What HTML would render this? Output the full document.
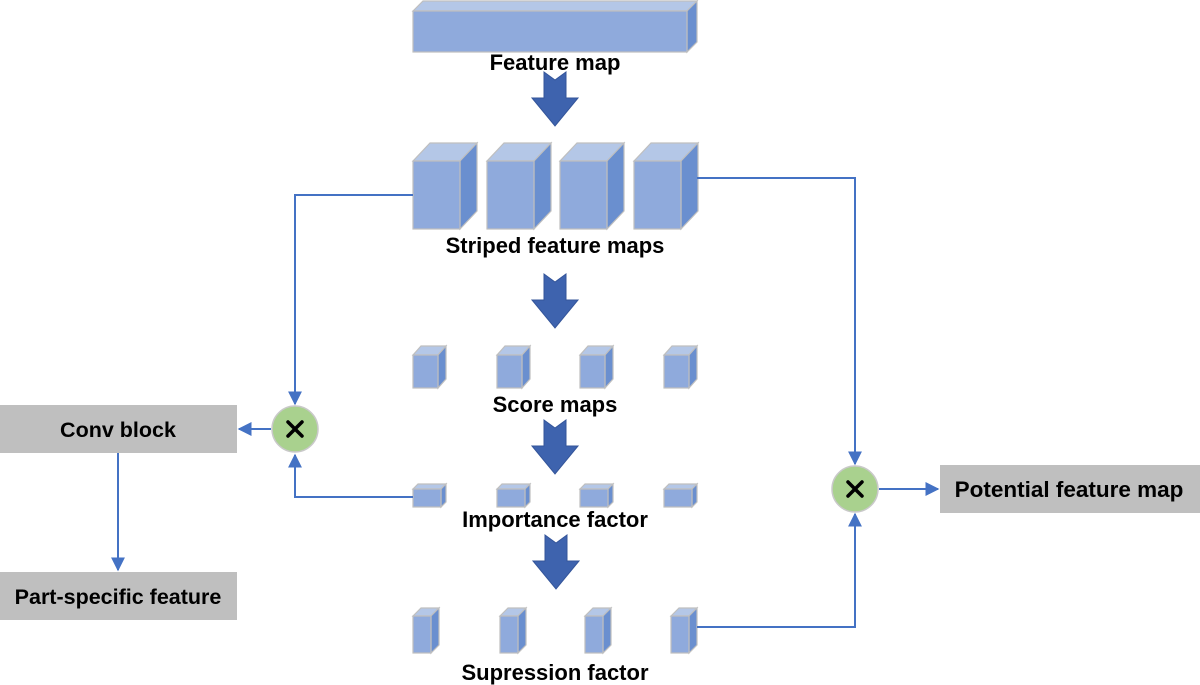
<!DOCTYPE html>
<html><head><meta charset="utf-8"><style>
html,body{margin:0;padding:0;background:#fff;}
svg{display:block;}
text{font-family:"Liberation Sans",sans-serif;font-weight:bold;fill:#000;}
</style></head><body>
<svg width="1200" height="685" viewBox="0 0 1200 685" xmlns="http://www.w3.org/2000/svg">
<defs>
<marker id="ah" viewBox="0 0 10 10" refX="9" refY="5" markerWidth="7" markerHeight="7" orient="auto" markerUnits="strokeWidth"><path d="M0,0 L10,5 L0,10 z" fill="#4472c4"/></marker>
<g id="chev"><path d="M-11,0 L0,8 L11,0 L11,26 L23,26 L0,54 L-23,26 L-11,26 z" fill="#3e63ae" stroke="#34559a" stroke-width="1"/></g>
</defs>
<g stroke="#bfbfbf" stroke-width="1.2">
<polygon points="413,11 423,1 697,1 687,11" fill="#b4c7e7"/>
<polygon points="687,11 697,1 697,42 687,52" fill="#6a8fcf"/>
<rect x="413" y="11" width="274" height="41" fill="#8faadc"/>
<g id="s1">
<polygon points="413,161 430,143 477,143 460,161" fill="#b4c7e7"/>
<polygon points="460,161 477,143 477,211 460,229" fill="#6a8fcf"/>
<rect x="413" y="161" width="47" height="68" fill="#8faadc"/>
</g>
<use href="#s1" x="74"/><use href="#s1" x="147"/><use href="#s1" x="221"/>
<g id="c1">
<polygon points="413,355 421,346 446,346 438,355" fill="#b4c7e7"/>
<polygon points="438,355 446,346 446,379 438,388" fill="#6a8fcf"/>
<rect x="413" y="355" width="25" height="33" fill="#8faadc"/>
</g>
<use href="#c1" x="84"/><use href="#c1" x="167"/><use href="#c1" x="251"/>
<g id="i1">
<polygon points="413,489 418,484 446,484 441,489" fill="#b4c7e7"/>
<polygon points="441,489 446,484 446,502 441,507" fill="#6a8fcf"/>
<rect x="413" y="489" width="28" height="18" fill="#8faadc"/>
</g>
<use href="#i1" x="84"/><use href="#i1" x="167"/><use href="#i1" x="251"/>
<g id="p1">
<polygon points="413,616 421,608 439,608 431,616" fill="#b4c7e7"/>
<polygon points="431,616 439,608 439,645 431,653" fill="#6a8fcf"/>
<rect x="413" y="616" width="18" height="37" fill="#8faadc"/>
</g>
<use href="#p1" x="87"/><use href="#p1" x="172"/><use href="#p1" x="258"/>
</g>
<use href="#chev" x="555" y="72"/>
<use href="#chev" x="555" y="274"/>
<use href="#chev" x="555" y="420"/>
<use href="#chev" x="556" y="535"/>
<g font-size="22" text-anchor="middle">
<text x="555" y="70">Feature map</text>
<text x="555" y="253">Striped feature maps</text>
<text x="555" y="412">Score maps</text>
<text x="555" y="527">Importance factor</text>
<text x="555" y="680">Supression factor</text>
</g>
<rect x="0" y="405" width="237" height="48" fill="#bfbfbf"/>
<rect x="0" y="572" width="237" height="48" fill="#bfbfbf"/>
<rect x="940" y="465" width="260" height="48" fill="#bfbfbf"/>
<g font-size="21.5" text-anchor="middle">
<text x="118" y="437">Conv block</text>
<text x="118" y="604">Part-specific feature</text>
<text x="1069" y="497" font-size="22.5">Potential feature map</text>
</g>
<g fill="none" stroke="#4472c4" stroke-width="2">
<polyline points="413,195 295,195 295,404" marker-end="url(#ah)"/>
<polyline points="413,497 295,497 295,455" marker-end="url(#ah)"/>
<line x1="271" y1="429" x2="239" y2="429" marker-end="url(#ah)"/>
<line x1="118" y1="453" x2="118" y2="570" marker-end="url(#ah)"/>
<polyline points="697,178 855,178 855,464" marker-end="url(#ah)"/>
<polyline points="697,627 855,627 855,514" marker-end="url(#ah)"/>
<line x1="879" y1="489" x2="938" y2="489" marker-end="url(#ah)"/>
</g>
<circle cx="295" cy="429" r="23" fill="#a9d18e" stroke="#c9c9c9" stroke-width="1.5"/>
<circle cx="855" cy="489" r="23" fill="#a9d18e" stroke="#c9c9c9" stroke-width="1.5"/>
<g stroke="#000" stroke-width="3.5" stroke-linecap="round">
<line x1="288" y1="422" x2="302" y2="436"/><line x1="302" y1="422" x2="288" y2="436"/>
<line x1="848" y1="482" x2="862" y2="496"/><line x1="862" y1="482" x2="848" y2="496"/>
</g>
</svg>
</body></html>
